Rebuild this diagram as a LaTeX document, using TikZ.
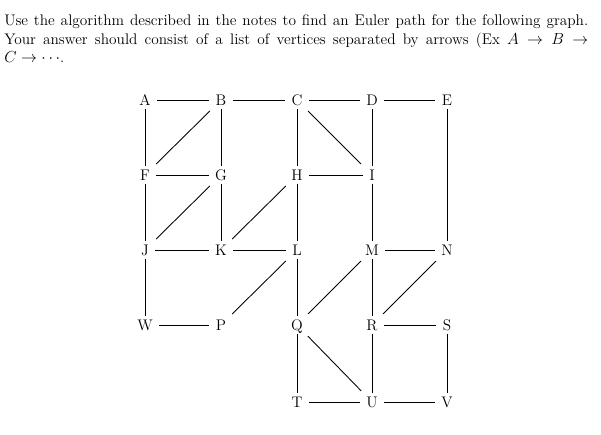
\documentclass[tikz,border=0pt]{standalone}
\begin{document}
\begin{tikzpicture}[x=0.75pt,y=-0.75pt,
  vtx/.style={rectangle,inner xsep=4.7pt,inner ysep=2.4pt,text height=7.85pt,text depth=0pt,font=\fontsize{11.5}{14}\selectfont},
  edge/.style={line width=0.65pt},
  diag/.style={line width=0.65pt,shorten <=2.5pt,shorten >=2.5pt}]
\useasboundingbox (0,0) rectangle (601,435);
\node[anchor=north west,inner sep=0pt,text width=438pt,align=justify,font=\fontsize{11.5}{14}\selectfont] (txt) at (4,14.5)
{Use the algorithm described in the notes to find an Euler path for the following graph.\linebreak Your answer should consist of a list of vertices separated by arrows (Ex $A\rightarrow B\rightarrow$\linebreak $C\rightarrow\cdots$.};
% row 1
\node[vtx] (A) at (145,100) {A};
\node[vtx] (B) at (221,100) {B};
\node[vtx] (C) at (297,100) {C};
\node[vtx] (D) at (372,100) {D};
\node[vtx] (E) at (447,100) {E};
% row 2
\node[vtx] (F) at (145,175) {F};
\node[vtx] (G) at (221,175) {G};
\node[vtx] (H) at (297,175) {H};
\node[vtx] (I) at (372,175) {I};
% row 3
\node[vtx] (J) at (145,250) {J};
\node[vtx] (K) at (221,250) {K};
\node[vtx] (L) at (297,250) {L};
\node[vtx] (M) at (372,250) {M};
\node[vtx] (N) at (447,250) {N};
% row 4
\node[vtx] (W) at (145,325) {W};
\node[vtx] (P) at (221,325) {P};
\node[vtx] (Q) at (297,325) {Q};
\node[vtx] (R) at (372,325) {R};
\node[vtx] (S) at (447,325) {S};
% row 5
\node[vtx] (T) at (297,402) {T};
\node[vtx] (U) at (372,402) {U};
\node[vtx] (V) at (447,402) {V};
% edges
\draw[edge] (A) -- (B);
\draw[edge] (B) -- (C);
\draw[edge] (C) -- (D);
\draw[edge] (D) -- (E);
\draw[edge] (A) -- (F);
\draw[edge] (B) -- (G);
\draw[diag] (F) -- (B);
\draw[edge] (C) -- (H);
\draw[diag] (C) -- (I);
\draw[edge] (D) -- (I);
\draw[edge] (E) -- (N);
\draw[edge] (F) -- (G);
\draw[edge] (H) -- (I);
\draw[edge] (F) -- (J);
\draw[diag] (J) -- (G);
\draw[edge] (G) -- (K);
\draw[diag] (K) -- (H);
\draw[edge] (H) -- (L);
\draw[edge] (I) -- (M);
\draw[edge] (J) -- (K);
\draw[edge] (K) -- (L);
\draw[edge] (M) -- (N);
\draw[edge] (J) -- (W);
\draw[diag] (P) -- (L);
\draw[edge] (L) -- (Q);
\draw[diag] (Q) -- (M);
\draw[edge] (M) -- (R);
\draw[diag] (R) -- (N);
\draw[edge] (W) -- (P);
\draw[edge] (R) -- (S);
\draw[edge] (Q) -- (T);
\draw[diag] (Q) -- (U);
\draw[edge] (R) -- (U);
\draw[edge] (S) -- (V);
\draw[edge] (T) -- (U);
\draw[edge] (U) -- (V);
\end{tikzpicture}
\end{document}
